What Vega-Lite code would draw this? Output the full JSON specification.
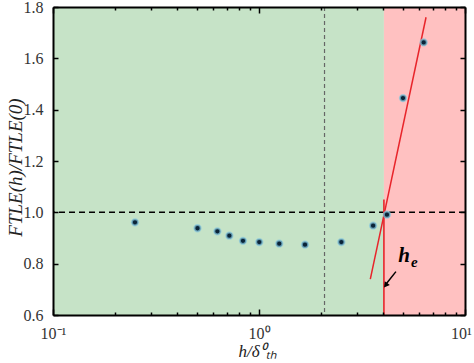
{
  "$schema": "https://vega.github.io/schema/vega-lite/v6.json",
  "autosize": "none",
  "padding": {"left": 53, "top": 7, "right": 9, "bottom": 48},
  "width": 412,
  "height": 308,
  "background": "white",
  "config": {
    "view": {"stroke": null},
    "axis": {
      "grid": false,
      "ticks": true,
      "domain": true,
      "domainColor": "black",
      "domainWidth": 2,
      "tickColor": "black",
      "tickWidth": 1.5,
      "labelFont": "Liberation Serif",
      "labelFontSize": 16,
      "labelColor": "#333",
      "titleFont": "Liberation Serif",
      "titleFontSize": 17,
      "titleFontStyle": "italic",
      "titleFontWeight": "normal",
      "titleColor": "#222"
    }
  },
  "resolve": {"axis": {"x": "independent", "y": "independent"}},
  "layer": [
    {
      "data": {"values": [{"x1": 0.1, "x2": 4.04, "zone": "g"}, {"x1": 4.04, "x2": 10, "zone": "r"}]},
      "mark": {"type": "rect"},
      "encoding": {
        "x": {
          "field": "x1", "type": "quantitative",
          "scale": {"type": "log", "domain": [0.1, 10], "nice": false},
          "axis": {
            "orient": "bottom",
            "zindex": 1,
            "values": [0.1, 0.2, 0.3, 0.4, 0.5, 0.6, 0.7, 0.8, 0.9, 1, 2, 3, 4, 5, 6, 7, 8, 9, 10],
            "labelExpr": "datum.value == 0.1 ? '10⁻¹' : datum.value == 1 ? '10⁰' : datum.value == 10 ? '10¹' : ''",
            "tickSize": {"condition": {"test": "datum.value == 0.1 || datum.value == 1 || datum.value == 10", "value": -6}, "value": -3},
            "labelOffset": {"condition": {"test": "datum.value == 10", "value": -4}, "value": 0},
            "labelPadding": 16,
            "labelFlush": false,
            "labelOverlap": false,
            "title": "h/δ⁰ₜₕ",
            "titleX": 204,
            "titleY": 28
          }
        },
        "x2": {"field": "x2"},
        "color": {"field": "zone", "type": "nominal", "scale": {"domain": ["g", "r"], "range": ["#c6e3c7", "#ffc1c1"]}, "legend": null}
      }
    },
    {
      "data": {"values": [{"x": 2.08}]},
      "mark": {"type": "rule", "color": "#666", "strokeDash": [4, 3], "strokeWidth": 1.2},
      "encoding": {
        "x": {"field": "x", "type": "quantitative", "axis": {
          "orient": "top",
          "zindex": 1,
          "values": [0.1, 0.2, 0.3, 0.4, 0.5, 0.6, 0.7, 0.8, 0.9, 1, 2, 3, 4, 5, 6, 7, 8, 9, 10],
          "labels": false,
          "tickSize": {"condition": {"test": "datum.value == 0.1 || datum.value == 1 || datum.value == 10", "value": -6}, "value": -3},
          "title": null
        }}
      }
    },
    {
      "data": {"values": [{"y": 1.0}]},
      "mark": {"type": "rule", "color": "black", "strokeDash": [6, 4], "strokeWidth": 1.5},
      "encoding": {
        "y": {"field": "y", "type": "quantitative",
          "scale": {"domain": [0.6, 1.8], "nice": false, "zero": false},
          "axis": {
            "orient": "left",
            "zindex": 1,
            "values": [0.6, 0.8, 1.0, 1.2, 1.4, 1.6, 1.8],
            "format": ".1f",
            "tickSize": -5,
            "labelPadding": 15,
            "labelFlush": false,
            "title": "FTLE(h)/FTLE(0)",
            "titleFontSize": 19,
            "titleX": -38,
            "titleY": 160,
            "titleAngle": 270,
            "titleBaseline": "middle",
            "titleAlign": "center"
          }
        }
      }
    },
    {
      "data": {"values": [{"x": 4.04, "y1": 0.6, "y2": 1.05}]},
      "mark": {"type": "rule", "color": "#e8242a", "strokeWidth": 1.6},
      "encoding": {
        "x": {"field": "x", "type": "quantitative", "axis": null},
        "y": {"field": "y1", "type": "quantitative", "axis": {
          "orient": "right",
          "zindex": 1,
          "values": [0.6, 0.8, 1.0, 1.2, 1.4, 1.6, 1.8],
          "labels": false,
          "tickSize": -5,
          "title": null
        }},
        "y2": {"field": "y2"}
      }
    },
    {
      "data": {"values": [{"x": 3.47, "y": 0.74}, {"x": 6.47, "y": 1.76}]},
      "mark": {"type": "line", "color": "#e8242a", "strokeWidth": 1.5},
      "encoding": {
        "x": {"field": "x", "type": "quantitative", "axis": null},
        "y": {"field": "y", "type": "quantitative", "axis": null}
      }
    },
    {
      "data": {"values": [
        {"x": 0.25, "y": 0.961},
        {"x": 0.503, "y": 0.938},
        {"x": 0.628, "y": 0.926},
        {"x": 0.718, "y": 0.909},
        {"x": 0.836, "y": 0.889},
        {"x": 1.003, "y": 0.884},
        {"x": 1.254, "y": 0.878},
        {"x": 1.672, "y": 0.874},
        {"x": 2.51, "y": 0.884},
        {"x": 3.58, "y": 0.948},
        {"x": 4.18, "y": 0.991},
        {"x": 5.0, "y": 1.445},
        {"x": 6.3, "y": 1.662}
      ]},
      "mark": {"type": "point", "filled": true, "fill": "#0a2438", "stroke": "#86c8de", "strokeWidth": 2, "strokeOpacity": 0.7, "size": 40, "opacity": 1},
      "encoding": {
        "x": {"field": "x", "type": "quantitative", "axis": null},
        "y": {"field": "y", "type": "quantitative", "axis": null}
      }
    },
    {
      "data": {"values": [{"x": 4.62, "y": 0.769, "x2": 4.13, "y2": 0.72}]},
      "mark": {"type": "rule", "color": "black", "strokeWidth": 1.5},
      "encoding": {
        "x": {"field": "x", "type": "quantitative", "axis": null},
        "y": {"field": "y", "type": "quantitative", "axis": null},
        "x2": {"field": "x2"},
        "y2": {"field": "y2"}
      }
    },
    {
      "data": {"values": [{"x": 4.12, "y": 0.716}]},
      "mark": {"type": "point", "shape": "triangle-up", "filled": true, "color": "black", "size": 40, "angle": 217, "opacity": 1},
      "encoding": {
        "x": {"field": "x", "type": "quantitative", "axis": null},
        "y": {"field": "y", "type": "quantitative", "axis": null}
      }
    },
    {
      "data": {"values": [{"x": 5.06, "y": 0.83, "t": "h"}]},
      "mark": {"type": "text", "font": "Liberation Serif", "fontSize": 21, "fontStyle": "italic", "fontWeight": "bold", "color": "black", "align": "center", "baseline": "middle"},
      "encoding": {
        "x": {"field": "x", "type": "quantitative", "axis": null},
        "y": {"field": "y", "type": "quantitative", "axis": null},
        "text": {"field": "t"}
      }
    },
    {
      "data": {"values": [{"x": 5.68, "y": 0.805, "t": "e"}]},
      "mark": {"type": "text", "font": "Liberation Serif", "fontSize": 15, "fontStyle": "italic", "fontWeight": "bold", "color": "black", "align": "center", "baseline": "middle"},
      "encoding": {
        "x": {"field": "x", "type": "quantitative", "axis": null},
        "y": {"field": "y", "type": "quantitative", "axis": null},
        "text": {"field": "t"}
      }
    }
  ]
}
